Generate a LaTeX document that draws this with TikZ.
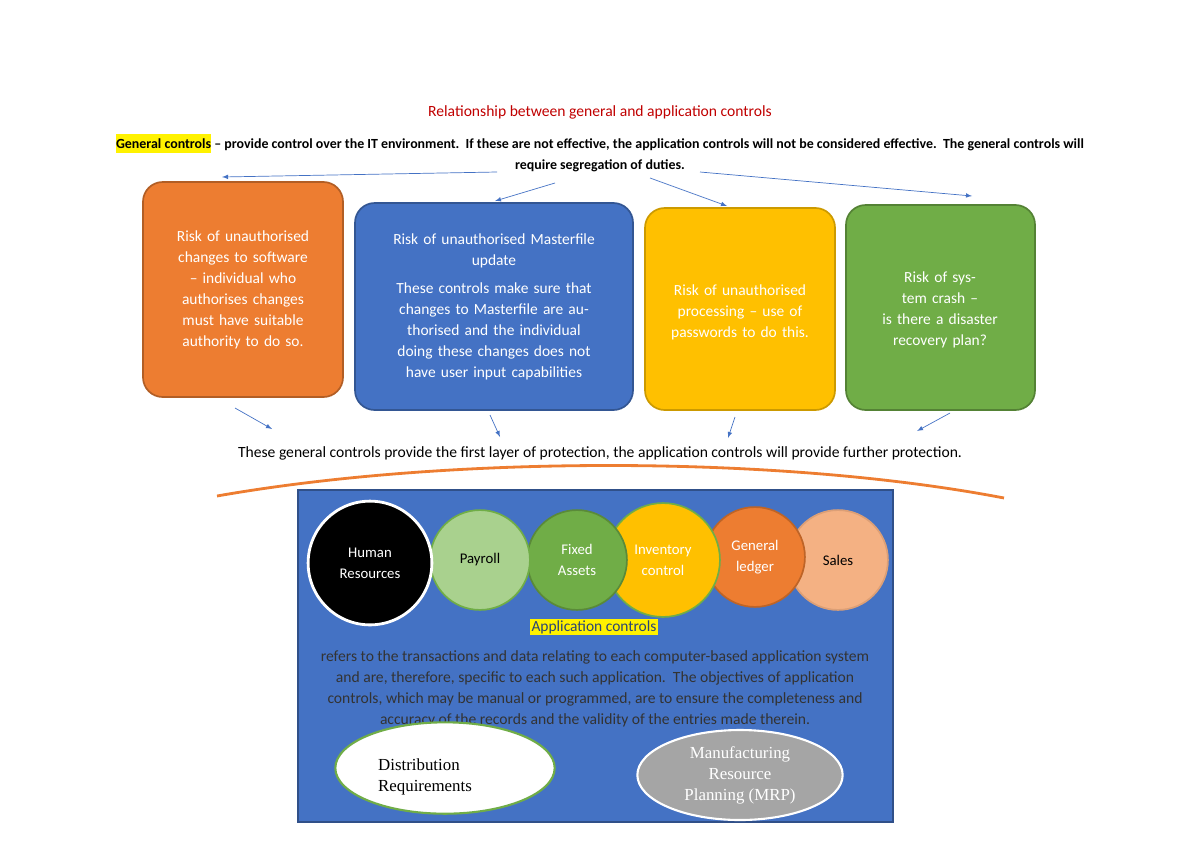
\documentclass[tikz,border=0pt]{standalone}
\usepackage{fontspec}
\setmainfont{Carlito}
\newfontfamily\serifmrp{Liberation Serif}
\usetikzlibrary{positioning,shapes.geometric}
\definecolor{gcred}{HTML}{C00000}
\definecolor{gcorange}{HTML}{ED7D31}
\definecolor{gcblue}{HTML}{4472C4}
\definecolor{gcgold}{HTML}{FFC000}
\definecolor{gcgreen}{HTML}{70AD47}
\definecolor{gcpale}{HTML}{A9D18E}
\definecolor{gcsalmon}{HTML}{F4B183}
\definecolor{gcgray}{HTML}{A5A5A5}
\tikzset{
  boxtext/.style={text=white, align=center, font=\fontsize{11}{15}\selectfont},
  app/.style={circle, line width=1.2pt, align=center, inner sep=0pt, font=\fontsize{10.5}{15}\selectfont},
  pointer/.style={-latex, gcblue, line width=0.5pt},
  oval/.style={ellipse, line width=1.5pt, inner sep=0pt, font=\serifmrp\fontsize{12}{15}\selectfont}
}
\begin{document}
\begin{tikzpicture}[x=0.025cm, y=-0.025cm]
	\useasboundingbox (0,0) rectangle (1200,848);
	\node[text=gcred, font=\fontsize{11.1}{12}\selectfont] (title) at (600,112) {Relationship between general and application controls};
	\node[align=center, font=\bfseries\fontsize{9.9}{15}\selectfont] (gen) at (600,153) {\colorbox{yellow}{\kern-3pt General controls\kern-3pt} -- provide control over the IT environment.\ \ If these are not effective, the application controls will not be considered effective.\ \ The general controls will\\ require segregation of duties.};
	
	\fill[gcorange, draw=gcorange!75!black, line width=1.2pt, rounded corners=14pt] (143,182) rectangle (343,397);
	\node[boxtext, text width=108pt] (soft) at (243,290) {Risk of unauthorised changes to software -- individual who authorises changes must have suitable authority to do so.};
	\fill[gcblue, draw=gcblue!75!black, line width=1.2pt, rounded corners=14pt] (355,203) rectangle (633,410);
	\node[boxtext, text width=172pt] (mf) at (494,307) {Risk of unauthorised Masterfile\\ update\\[5pt] These controls make sure that changes to Masterfile are authorised and the individual doing these changes does not have user input capabilities};
	\fill[gcgold, draw=gcgold!80!black, line width=1.2pt, rounded corners=14pt] (645,208) rectangle (835,410);
	\node[boxtext, text width=100pt] (pw) at (740,312) {Risk of unauthorised processing -- use of passwords to do this.};
	\fill[gcgreen, draw=gcgreen!75!black, line width=1.2pt, rounded corners=14pt] (846,205) rectangle (1035,410);
	\node[boxtext, text width=100pt] (crash) at (940,310) {Risk of system crash --\\ is there a disaster recovery plan?};
	
	% pointers from the heading down to the boxes
	\coordinate (a1) at (497,172); \coordinate (b1) at (222,177);
	\coordinate (a2) at (555,183); \coordinate (b2) at (495,201);
	\coordinate (a3) at (650,178); \coordinate (b3) at (727,206);
	\coordinate (a4) at (700,172); \coordinate (b4) at (972,196);
	\foreach \i in {1,...,4} \draw[pointer] (a\i) -- (b\i);
	\coordinate (c1) at (235,408); \coordinate (d1) at (272,429);
	\coordinate (c2) at (490,415); \coordinate (d2) at (500,437);
	\coordinate (c3) at (735,417); \coordinate (d3) at (728,438);
	\coordinate (c4) at (950,413); \coordinate (d4) at (917,431);
	\foreach \i in {1,...,4} \draw[pointer] (c\i) -- (d\i);
	
	\node[font=\fontsize{11.1}{12}\selectfont] (layer) at (600,453) {These general controls provide the first layer of protection, the application controls will provide further protection.};
	\coordinate (arcl) at (217,496); \coordinate (arcr) at (1004,498);
	\draw[gcorange, line width=2pt] (arcl) .. controls (450,455) and (780,455) .. (arcr);
	
	\fill[gcblue, draw=gcblue!70!black, line width=1.2pt] (298,490) rectangle (893,822);
	\node[app, fill=gcsalmon, draw=gcsalmon!90!black, minimum size=71pt] (sales) at (838,560) {Sales};
	\node[app, fill=gcorange, draw=gcorange!80!black, minimum size=71pt, text=white] (gl) at (755,557) {General\\ledger};
	\node[app, fill=gcgold, draw=gcgreen, minimum size=81pt, text=white] (inv) at (663,560) {Inventory\\control};
	\node[app, fill=gcgreen, draw=gcgreen!80!black, minimum size=71pt, text=white] (fa) at (577,560) {Fixed\\Assets};
	\node[app, fill=gcpale, draw=gcgreen, minimum size=71pt] (pay) at (480,560) {Payroll};
	\node[app, fill=black, draw=white, line width=2pt, minimum size=88pt, text=white] (hr) at (370,563) {Human\\Resources};
	
	\node[font=\fontsize{11}{12}\selectfont, fill=yellow, inner sep=1pt, text=gcblue!60!black] (appc) at (594,627) {Application controls};
	\node[align=center, font=\fontsize{11.1}{15}\selectfont, text=black!80] (para) at (595,689) {refers to the transactions and data relating to each computer-based application system\\ and are, therefore, specific to each such application.\ \ The objectives of application\\ controls, which may be manual or programmed, are to ensure the completeness and\\ accuracy of the records and the validity of the entries made therein.};
	\node[oval, draw=gcgreen, fill=white, minimum width=156pt, minimum height=65pt] (dist) at (445,768) {};
	\node[align=left, font=\serifmrp\fontsize{12}{15}\selectfont] (disttxt) at (425,777) {Distribution\\Requirements};
	\node[oval, draw=white, fill=gcgray, minimum width=146pt, minimum height=64pt, text=white, align=center] (mrp) at (740,775) {Manufacturing\\Resource\\Planning (MRP)};
\end{tikzpicture}
\end{document}
